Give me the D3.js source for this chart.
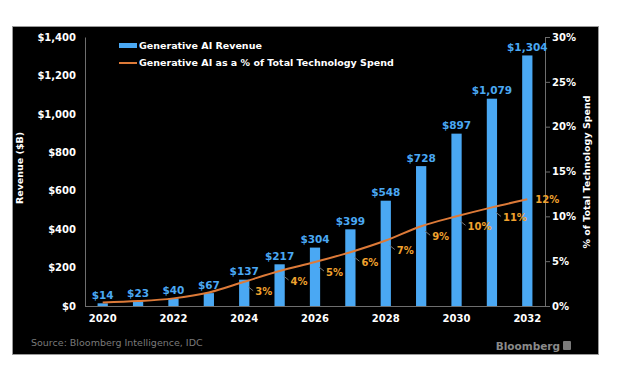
<!DOCTYPE html>
<html>
<head>
<meta charset="utf-8">
<script src="https://cdn.jsdelivr.net/npm/d3@7"></script>
<style>
    body { margin: 0; background: #fff; }
    svg text { font-family: "DejaVu Sans", sans-serif; }
</style>
</head>
<body>
<div id="chart"></div>
<script>
// data
const years = [2020, 2021, 2022, 2023, 2024, 2025, 2026, 2027, 2028, 2029, 2030, 2031, 2032];
const revenue = [14, 23, 40, 67, 137, 217, 304, 399, 548, 728, 897, 1079, 1304];
const techShare = [0.4, 0.55, 0.85, 1.5, 2.7, 3.9, 4.9, 6.0, 7.3, 8.9, 10.0, 11.0, 11.9];
const shareLabels = [null, null, null, null, '3%', '4%', '5%', '6%', '7%', '9%', '10%', '11%', '12%'];
const yearTicks = [2020, 2022, 2024, 2026, 2028, 2030, 2032];
const revenueTicks = [0, 200, 400, 600, 800, 1000, 1200, 1400];
const shareTicks = [0, 5, 10, 15, 20, 25, 30];

const dimensions = { width: 624, height: 371 };
const margin = { top: 37, right: 79, bottom: 65, left: 85 };
const graphWidth = dimensions.width - margin.left - margin.right;
const graphHeight = dimensions.height - margin.top - margin.bottom;

const rows = years.map((y, i) => ({ year: y, revenue: revenue[i], share: techShare[i], label: shareLabels[i] }));

const svg = d3.select('#chart')
    .append('svg')
    .attr('width', dimensions.width)
    .attr('height', dimensions.height);

// black panel
svg.append('rect')
    .attr('x', 12.5).attr('y', 26.5)
    .attr('width', 586).attr('height', 328)
    .attr('fill', '#000')
    .attr('stroke', '#9a9a9a');

const graph = svg.append('g')
    .attr('transform', `translate(${margin.left}, ${margin.top})`);

// scales
const x = d3.scaleBand().domain(years).range([0, graphWidth]).paddingInner(0.71).paddingOuter(0.355);
const y = d3.scaleLinear().domain([0, 1400]).range([graphHeight, 0]);
const y2 = d3.scaleLinear().domain([0, 30]).range([graphHeight, 0]);
const cx = d => x(d) + x.bandwidth() / 2;

// axes
const yAxis = graph.append('g')
    .call(d3.axisLeft(y).tickValues(revenueTicks).tickSize(0).tickPadding(9)
        .tickFormat(d => '$' + d3.format(',')(d)));

const y2Axis = graph.append('g')
    .attr('transform', `translate(${graphWidth}, 0)`)
    .call(d3.axisRight(y2).tickValues(shareTicks).tickSize(5).tickPadding(2)
        .tickFormat(d => d + '%'));

const xAxis = graph.append('g')
    .attr('transform', `translate(0, ${graphHeight})`)
    .call(d3.axisBottom(x).tickValues(yearTicks).tickSize(0).tickPadding(8.5));

[yAxis, y2Axis, xAxis].forEach(g => {
    g.select('.domain').attr('stroke', '#6e6e6e');
    g.selectAll('.tick line').attr('stroke', '#6e6e6e');
    g.selectAll('.tick text')
        .attr('fill', '#fff')
        .style('font-size', '10px')
        .style('font-weight', 'bold');
});
xAxis.select('.domain').attr('d', `M0,0.5H${graphWidth}`);

// axis titles
graph.append('text')
    .attr('transform', `translate(${20 - margin.left}, ${168 - margin.top}) rotate(-90)`)
    .attr('text-anchor', 'middle')
    .attr('dy', '0.35em')
    .attr('fill', '#fff')
    .style('font-size', '9.5px')
    .style('font-weight', 'bold')
    .text('Revenue ($B)');

graph.append('text')
    .attr('transform', `translate(${587 - margin.left}, ${172 - margin.top}) rotate(-90)`)
    .attr('text-anchor', 'middle')
    .attr('dy', '0.35em')
    .attr('fill', '#fff')
    .style('font-size', '9.5px')
    .style('font-weight', 'bold')
    .text('% of Total Technology Spend');

// bars
graph.selectAll('rect.bar')
    .data(rows)
    .enter()
    .append('rect')
        .attr('class', 'bar')
        .attr('x', d => x(d.year))
        .attr('y', d => y(d.revenue))
        .attr('width', x.bandwidth())
        .attr('height', d => graphHeight - y(d.revenue))
        .attr('fill', '#4aa8f3');

graph.selectAll('text.bar-label')
    .data(rows)
    .enter()
    .append('text')
        .attr('class', 'bar-label')
        .attr('x', d => cx(d.year))
        .attr('y', d => y(d.revenue) - 4.5)
        .attr('text-anchor', 'middle')
        .attr('fill', '#4aa8f3')
        .style('font-size', '10.5px')
        .style('font-weight', 'bold')
        .text(d => '$' + d3.format(',')(d.revenue));

// share line
const line = d3.line()
    .x(d => cx(d.year))
    .y(d => y2(d.share))
    .curve(d3.curveMonotoneX);

graph.append('path')
    .datum(rows)
    .attr('d', line)
    .attr('fill', 'none')
    .attr('stroke', '#dd7a38')
    .attr('stroke-width', 2);

// share labels with small leaders
const labelled = rows.filter(d => d.label);
const isLast = d => d.year === years[years.length - 1];

graph.selectAll('line.leader')
    .data(labelled.filter(d => !isLast(d)))
    .enter()
    .append('line')
        .attr('class', 'leader')
        .attr('x1', d => cx(d.year) + 4)
        .attr('y1', d => y2(d.share) + 5)
        .attr('x2', d => cx(d.year) + 9)
        .attr('y2', d => y2(d.share) + 9)
        .attr('stroke', '#777')
        .attr('stroke-width', 1);

graph.selectAll('text.share-label')
    .data(labelled)
    .enter()
    .append('text')
        .attr('class', 'share-label')
        .attr('x', d => cx(d.year) + (isLast(d) ? 8 : 11))
        .attr('y', d => y2(d.share) + (isLast(d) ? 0 : 10))
        .attr('dy', '0.35em')
        .attr('fill', '#f0a22e')
        .style('font-size', '10px')
        .style('font-weight', 'bold')
        .text(d => d.label);

// legend
const legend = svg.append('g');
legend.append('rect')
    .attr('x', 119).attr('y', 43)
    .attr('width', 18).attr('height', 5)
    .attr('fill', '#4aa8f3');
legend.append('line')
    .attr('x1', 119).attr('x2', 137)
    .attr('y1', 63).attr('y2', 63)
    .attr('stroke', '#dd7a38').attr('stroke-width', 2);
legend.selectAll('text')
    .data(['Generative AI Revenue', 'Generative AI as a % of Total Technology Spend'])
    .enter()
    .append('text')
        .attr('x', 139)
        .attr('y', (d, i) => 46 + i * 17)
        .attr('dy', '0.35em')
        .attr('fill', '#fff')
        .style('font-size', '9.5px')
        .style('font-weight', 'bold')
        .text(d => d);

// footer
svg.append('text')
    .attr('x', 31).attr('y', 343)
    .attr('dy', '0.35em')
    .attr('fill', '#7a7a7a')
    .style('font-size', '9.5px')
    .text('Source: Bloomberg Intelligence, IDC');

svg.append('text')
    .attr('x', 560).attr('y', 346)
    .attr('dy', '0.35em')
    .attr('text-anchor', 'end')
    .attr('fill', '#8a8a8a')
    .style('font-size', '10.5px')
    .style('font-weight', 'bold')
    .text('Bloomberg');

svg.append('rect')
    .attr('x', 563).attr('y', 341)
    .attr('width', 8).attr('height', 9)
    .attr('rx', 1)
    .attr('fill', '#7a7a7a');
</script>
</body>
</html>
